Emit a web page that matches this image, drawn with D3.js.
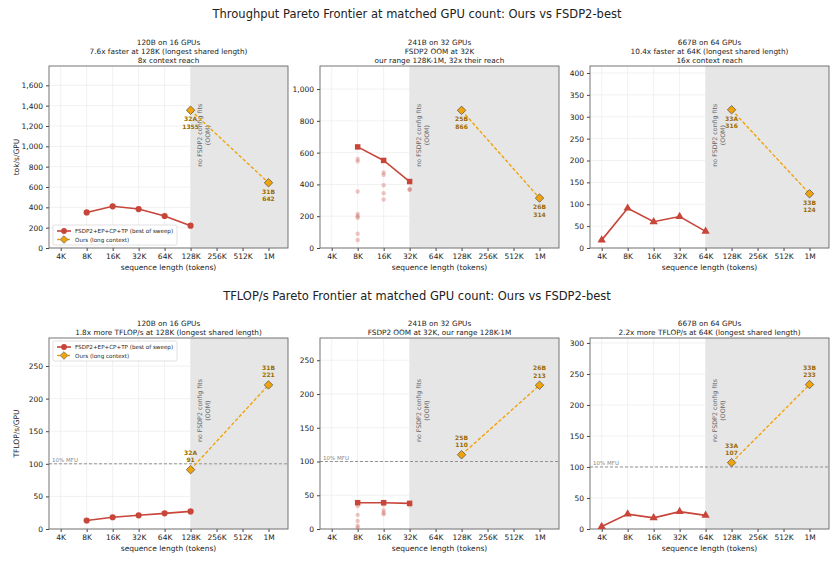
<!DOCTYPE html>
<html lang="en">
<head>
<script src="https://d3js.org/d3.v7.min.js"></script>
<style>
  body { margin: 0; background: #fff; }
  svg text { font-family: "DejaVu Sans", sans-serif; fill: #222; }
</style>
</head>
<body>
<svg id="chart" width="835" height="575"></svg>
<script>
// x categories
var seqLabels = ["4K", "8K", "16K", "32K", "64K", "128K", "256K", "512K", "1M"];

// top row: tok/s/GPU
var tput120Fsdp = [[1, 350], [2, 410], [3, 383], [4, 315], [5, 220]];
var tput120Ours = [[5, 1355, "32A"], [8, 642, "31B"]];
var tput241Fsdp = [[1, 636], [2, 551], [3, 418]];
var tput241Sweep = [[1, 560], [1, 545], [1, 355], [1, 215], [1, 200], [1, 190], [1, 90], [1, 50],
                    [2, 475], [2, 460], [2, 395], [2, 345], [2, 305], [3, 370], [3, 366]];
var tput241Ours = [[5, 866, "25B"], [8, 314, "26B"]];
var tput667Fsdp = [[0, 18], [1, 91], [2, 60], [3, 72], [4, 38]];
var tput667Ours = [[5, 316, "33A"], [8, 124, "33B"]];

// bottom row: TFLOP/s/GPU
var tf120Fsdp = [[1, 13], [2, 18], [3, 21], [4, 24], [5, 27]];
var tf120Ours = [[5, 91, "32A"], [8, 221, "31B"]];
var tf241Fsdp = [[1, 39], [2, 39], [3, 38]];
var tf241Sweep = [[1, 34], [1, 21], [1, 12], [1, 5], [1, 2], [2, 36], [2, 28], [2, 24], [2, 22], [3, 35]];
var tf241Ours = [[5, 110, "25B"], [8, 213, "26B"]];
var tf667Fsdp = [[0, 4], [1, 24], [2, 18], [3, 28], [4, 22]];
var tf667Ours = [[5, 107, "33A"], [8, 233, "33B"]];

var svg = d3.select("#chart");
var red = "#c8453a", orange = "#f0a30a", gold = "#9a6a00";

svg.append("text").attr("x", 417).attr("y", 18).attr("text-anchor", "middle")
  .style("font-size", "11.5px").text("Throughput Pareto Frontier at matched GPU count: Ours vs FSDP2-best");
svg.append("text").attr("x", 417).attr("y", 300).attr("text-anchor", "middle")
  .style("font-size", "11.5px").text("TFLOP/s Pareto Frontier at matched GPU count: Ours vs FSDP2-best");

var panels = [
  {x: 49, y: 66, h: 182, ymax: 1790, ticks: d3.range(0, 1601, 200), ylabel: "tok/s/GPU",
   titles: ["120B on 16 GPUs", "7.6x faster at 128K (longest shared length)", "8x context reach"],
   fsdp: tput120Fsdp, ours: tput120Ours, shade: 5, sym: d3.symbolCircle, below: true, legend: "bottom"},
  {x: 320, y: 66, h: 182, ymax: 1145, ticks: d3.range(0, 1001, 200),
   titles: ["241B on 32 GPUs", "FSDP2 OOM at 32K", "our range 128K-1M, 32x their reach"],
   fsdp: tput241Fsdp, sweep: tput241Sweep, ours: tput241Ours, shade: 3, sym: d3.symbolSquare, below: true},
  {x: 590, y: 66, h: 182, ymax: 416, ticks: d3.range(0, 401, 50),
   titles: ["667B on 64 GPUs", "10.4x faster at 64K (longest shared length)", "16x context reach"],
   fsdp: tput667Fsdp, ours: tput667Ours, shade: 4, sym: d3.symbolTriangle, below: true},
  {x: 49, y: 338, h: 191, ymax: 293, ticks: d3.range(0, 251, 50), ylabel: "TFLOP/s/GPU",
   titles: ["120B on 16 GPUs", "1.8x more TFLOP/s at 128K (longest shared length)"],
   fsdp: tf120Fsdp, ours: tf120Ours, shade: 5, sym: d3.symbolCircle, below: false, mfu: true, legend: "top"},
  {x: 320, y: 338, h: 191, ymax: 283, ticks: d3.range(0, 251, 50),
   titles: ["241B on 32 GPUs", "FSDP2 OOM at 32K, our range 128K-1M"],
   fsdp: tf241Fsdp, sweep: tf241Sweep, ours: tf241Ours, shade: 3, sym: d3.symbolSquare, below: false, mfu: true},
  {x: 590, y: 338, h: 191, ymax: 308, ticks: d3.range(0, 301, 50),
   titles: ["667B on 64 GPUs", "2.2x more TFLOP/s at 64K (longest shared length)"],
   fsdp: tf667Fsdp, ours: tf667Ours, shade: 4, sym: d3.symbolTriangle, below: false, mfu: true}
];

panels.forEach(function(p) {
  var w = 239;
  var g = svg.append("g").attr("transform", "translate(" + p.x + "," + p.y + ")");
  var x = d3.scaleLinear().domain([-0.45, 8.75]).range([0, w]);
  var y = d3.scaleLinear().domain([0, p.ymax]).range([p.h, 0]);

  // grid
  g.selectAll(".gx").data(d3.range(9)).enter().append("line")
    .attr("x1", d => x(d)).attr("x2", d => x(d)).attr("y1", 0).attr("y2", p.h)
    .attr("stroke", "#ebebeb").attr("stroke-width", 0.7);
  g.selectAll(".gy").data(p.ticks).enter().append("line")
    .attr("x1", 0).attr("x2", w).attr("y1", d => y(d)).attr("y2", d => y(d))
    .attr("stroke", "#ebebeb").attr("stroke-width", 0.7);

  // OOM shade
  g.append("rect").attr("x", x(p.shade)).attr("y", 0).attr("width", w - x(p.shade)).attr("height", p.h)
    .attr("fill", "#e6e6e6");
  var oom = g.append("text").attr("transform", "translate(" + (x(p.shade) + 11) + "," + (p.h * 0.38) + ") rotate(-90)")
    .attr("text-anchor", "middle").style("font-size", "6.3px").style("fill", "#666");
  oom.append("tspan").attr("x", 0).attr("dy", 0).text("no FSDP2 config fits");
  oom.append("tspan").attr("x", 0).attr("dy", 8).text("(OOM)");

  if (p.mfu) {
    g.append("line").attr("x1", 0).attr("x2", w).attr("y1", y(100)).attr("y2", y(100))
      .attr("stroke", "#888").attr("stroke-dasharray", "3,2").attr("stroke-width", 0.9);
    g.append("text").attr("x", 3).attr("y", y(100) - 2).style("font-size", "5.5px").style("fill", "#888").text("10% MFU");
  }

  // axes
  var xa = g.append("g").attr("transform", "translate(0," + p.h + ")")
    .call(d3.axisBottom(x).tickValues(d3.range(9)).tickFormat(i => seqLabels[i]).tickSize(3));
  var ya = g.append("g").call(d3.axisLeft(y).tickValues(p.ticks).tickSize(3));
  [xa, ya].forEach(function(a) {
    a.selectAll("text").style("font-size", "7.5px");
    a.select(".domain").remove();
    a.selectAll("line").attr("stroke", "#444");
  });
  g.append("rect").attr("width", w).attr("height", p.h).attr("fill", "none").attr("stroke", "#666").attr("stroke-width", 0.9);
  g.append("text").attr("x", w / 2).attr("y", p.h + 22).attr("text-anchor", "middle")
    .style("font-size", "7.5px").text("sequence length (tokens)");
  if (p.ylabel) {
    g.append("text").attr("transform", "translate(-30," + (p.h / 2) + ") rotate(-90)")
      .attr("text-anchor", "middle").style("font-size", "7.5px").text(p.ylabel);
  }

  // titles
  var n = p.titles.length;
  p.titles.forEach(function(t, i) {
    g.append("text").attr("x", w / 2).attr("y", -3 - (n - 1 - i) * 9).attr("text-anchor", "middle")
      .style("font-size", "7.3px").text(t);
  });

  // sweep points
  if (p.sweep) {
    g.selectAll(".sw").data(p.sweep).enter().append("circle")
      .attr("cx", d => x(d[0])).attr("cy", d => y(d[1])).attr("r", 2.2)
      .attr("fill", red).attr("opacity", 0.3);
  }

  var line = d3.line().x(d => x(d[0])).y(d => y(d[1]));
  g.append("path").datum(p.fsdp).attr("d", line).attr("fill", "none").attr("stroke", red).attr("stroke-width", 1.6);
  g.selectAll(".fp").data(p.fsdp).enter().append("path")
    .attr("transform", d => "translate(" + x(d[0]) + "," + y(d[1]) + ")")
    .attr("d", d3.symbol().type(p.sym).size(30)).attr("fill", red);

  g.append("path").datum(p.ours).attr("d", line).attr("fill", "none").attr("stroke", orange)
    .attr("stroke-width", 1.4).attr("stroke-dasharray", "3.5,2");
  g.selectAll(".op").data(p.ours).enter().append("path")
    .attr("transform", d => "translate(" + x(d[0]) + "," + y(d[1]) + ") rotate(45)")
    .attr("d", d3.symbol().type(d3.symbolSquare).size(36)).attr("fill", orange).attr("stroke", "#555").attr("stroke-width", 0.7);
  p.ours.forEach(function(d) {
    var t = g.append("text").attr("text-anchor", "middle").style("font-size", "6px").style("font-weight", "bold").style("fill", gold);
    var yy = p.below ? y(d[1]) + 11 : y(d[1]) - 15;
    t.append("tspan").attr("x", x(d[0])).attr("y", yy).text(d[2]);
    t.append("tspan").attr("x", x(d[0])).attr("y", yy + 7.5).text(d[1]);
  });

  // legend
  if (p.legend) {
    var ly = p.legend === "bottom" ? p.h - 23 : 3;
    var lg = g.append("g").attr("transform", "translate(4," + ly + ")");
    lg.append("rect").attr("width", 124).attr("height", 20).attr("fill", "#fff").attr("stroke", "#ccc").attr("stroke-width", 0.6).attr("rx", 1.5);
    lg.append("line").attr("x1", 4).attr("x2", 18).attr("y1", 6).attr("y2", 6).attr("stroke", red).attr("stroke-width", 1.6);
    lg.append("path").attr("transform", "translate(11,6)").attr("d", d3.symbol().type(d3.symbolCircle).size(26)).attr("fill", red);
    lg.append("text").attr("x", 22).attr("y", 8).style("font-size", "5.6px").text("FSDP2+EP+CP+TP (best of sweep)");
    lg.append("line").attr("x1", 4).attr("x2", 18).attr("y1", 14.5).attr("y2", 14.5).attr("stroke", orange).attr("stroke-width", 1.4).attr("stroke-dasharray", "3,2");
    lg.append("path").attr("transform", "translate(11,14.5) rotate(45)").attr("d", d3.symbol().type(d3.symbolSquare).size(30)).attr("fill", orange).attr("stroke", "#555").attr("stroke-width", 0.6);
    lg.append("text").attr("x", 22).attr("y", 16.5).style("font-size", "5.6px").text("Ours (long context)");
  }
});
</script>
</body>
</html>
